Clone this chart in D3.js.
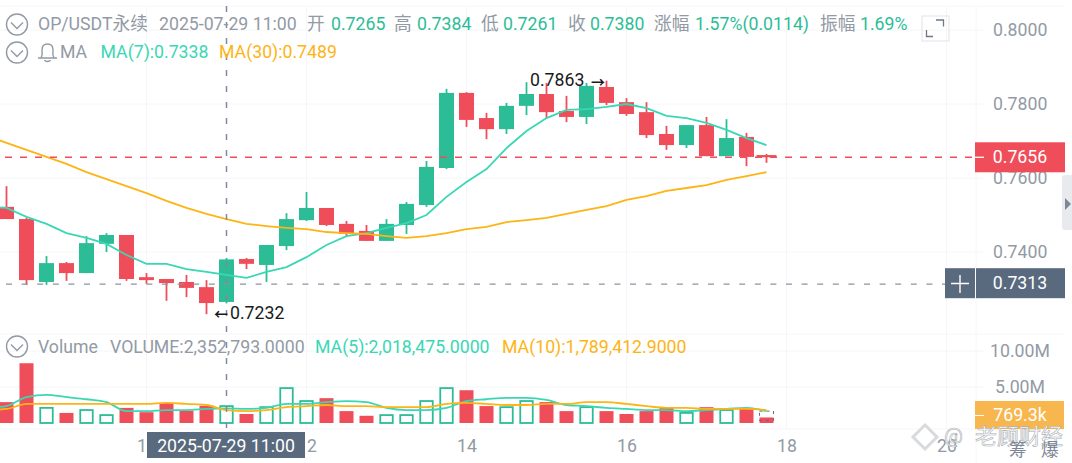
<!DOCTYPE html>
<html lang="en">
<head>
<meta charset="utf-8">
<title>OP/USDT</title>
<script src="https://d3js.org/d3.v7.min.js"></script>
<style>
html, body { margin: 0; padding: 0; background: #fff; }
svg { display: block; }
text { font-family: Roboto, "Noto Sans CJK SC", sans-serif; font-size: 17.7px; }
.grid { stroke: #f5f6f8; stroke-width: 1; }
.axis path, .axis line { display: none; }
.axis text { fill: #929aa5; font-family: Roboto, sans-serif; font-size: 17.7px; }
.icon { fill: none; stroke: #929aa5; stroke-width: 1.4; }
</style>
</head>
<body>
<div id="chart"></div>
<script>
// candles, one per bar
var opens  = [.7522,.7489,.7319,.7370,.7343,.7422,.7446,.7332,.7327,.7319,.7305,.7265,.7381,.7365,.7416,.7486,.7519,.7476,.7457,.7430,.7473,.7527,.7627,.7830,.7762,.7732,.7795,.7827,.7781,.7765,.7846,.7805,.7778,.7719,.7689,.7743,.7659,.7711,.7662];
var highs  = [.7578,.7492,.7389,.7373,.7443,.7451,.7446,.7343,.7327,.7338,.7324,.7384,.7384,.7419,.7505,.7562,.7519,.7484,.7473,.7489,.7535,.7646,.7841,.7832,.7776,.7803,.7859,.7857,.7822,.7857,.7863,.7816,.7805,.7741,.7743,.7765,.7759,.7722,.7665];
var lows   = [.7489,.7311,.7311,.7322,.7343,.7400,.7322,.7314,.7268,.7278,.7232,.7261,.7354,.7319,.7405,.7484,.7470,.7443,.7430,.7430,.7449,.7522,.7624,.7738,.7705,.7719,.7770,.7762,.7751,.7746,.7797,.7768,.7708,.7676,.7681,.7659,.7659,.7632,.7641];
var closes = [.7489,.7324,.7370,.7343,.7424,.7446,.7327,.7324,.7316,.7303,.7262,.7380,.7368,.7419,.7489,.7519,.7473,.7449,.7430,.7476,.7530,.7630,.7830,.7757,.7732,.7795,.7827,.7778,.7765,.7849,.7803,.7773,.7716,.7689,.7743,.7659,.7708,.7657,.7656];
// volume in millions
var volumes = [2.9,8.3,2.1,1.4,1.8,1.1,2.1,1.5,2.8,1.7,2.4,2.35,1.25,2.2,4.85,3.05,3.45,1.65,1.0,1.1,1.1,3.05,4.85,4.55,2.35,2.2,3.05,2.9,1.65,2.2,1.65,1.25,1.65,2.2,1.4,2.2,1.8,2.1,0.77];
// moving averages start one bar before the first candle (off the left edge)
var ma7  = [.7522,.7519,.7495,.7476,.7451,.7438,.7422,.7392,.7368,.7368,.7354,.7346,.7338,.7330,.7346,.7359,.7386,.7419,.7443,.7451,.7465,.7478,.7500,.7549,.7589,.7624,.7681,.7727,.7762,.7784,.7786,.7792,.7800,.7789,.7768,.7762,.7749,.7730,.7708,.7689];
var ma30 = [.7714,.7695,.7676,.7657,.7638,.7616,.7597,.7578,.7559,.7538,.7519,.7503,.7489,.7476,.7470,.7465,.7462,.7454,.7451,.7449,.7443,.7438,.7443,.7451,.7462,.7468,.7481,.7486,.7492,.7503,.7514,.7524,.7541,.7551,.7565,.7573,.7581,.7595,.7605,.7616];
var volMa5  = [2.1,2.35,3.6,3.9,3.6,3.3,2.9,1.65,1.65,1.8,1.8,1.95,2.02,1.95,2.1,2.65,2.65,2.9,3.05,2.9,2.1,1.8,1.8,2.1,3.05,3.3,3.5,3.5,3.2,2.5,2.35,2.1,1.95,1.8,1.8,1.65,1.8,1.95,2.1,1.65];
var volMa10 = [1.8,1.95,2.65,2.65,2.65,2.65,2.65,2.65,2.65,2.8,2.65,2.5,1.79,1.65,1.8,2.2,2.35,2.5,2.35,2.35,2.2,2.2,2.2,2.65,2.8,2.65,2.5,2.5,2.65,2.65,2.9,2.9,2.65,2.35,2.1,2.1,1.95,1.95,1.95,1.8];

var priceTicks = [0.80, 0.78, 0.76, 0.74];
var volumeTicks = [10, 5];
var dateTicks = [7, 15, 23, 31, 39, 47];
var dateLabels = ["10", "12", "14", "16", "18", "20"];

var lastPrice = 0.7656, crossPrice = 0.7313, crossBar = 11, lastVolume = 0.7693;

var UP = "#2dbd96", DOWN = "#f04d5a", TEAL = "#3ad7b5", GOLD = "#fdb414", SLATE = "#5a6a7e", GRAY = "#929aa5";

var w = 1072, h = 463;
var svg = d3.select("#chart").append("svg").attr("width", w).attr("height", h);

var x = d3.scaleLinear().domain([0, 1]).range([6.5, 26.5]);
var y = d3.scaleLinear().domain([0.80, 0.74]).range([30, 252]);
var yVol = d3.scaleLinear().domain([0, 10]).range([423, 351]);

// grid
var grid = svg.append("g");
dateTicks.forEach(function(t) {
  grid.append("line").attr("class", "grid").attr("x1", x(t)).attr("x2", x(t)).attr("y1", 6).attr("y2", 429);
});
priceTicks.forEach(function(t) {
  grid.append("line").attr("class", "grid").attr("x1", 0).attr("x2", 984).attr("y1", y(t)).attr("y2", y(t));
});
volumeTicks.forEach(function(t) {
  grid.append("line").attr("class", "grid").attr("x1", 0).attr("x2", 984).attr("y1", yVol(t)).attr("y2", yVol(t));
});
[6, 334, 429].forEach(function(p) {
  grid.append("line").attr("class", "grid").attr("x1", 0).attr("x2", 1065).attr("y1", p).attr("y2", p);
});
grid.append("line").attr("class", "grid").attr("x1", 976).attr("x2", 976).attr("y1", 6).attr("y2", 463);

// volume bars
var barW = 14;
svg.append("g").selectAll("rect").data(volumes).enter().append("rect")
  .attr("x", function(d, i) { return x(i) - barW / 2 + (closes[i] >= opens[i] ? 0.75 : 0); })
  .attr("width", function(d, i) { return closes[i] >= opens[i] ? barW - 1.5 : barW; })
  .attr("y", function(d) { return yVol(d); })
  .attr("height", function(d) { return yVol(0) - yVol(d); })
  .attr("fill", function(d, i) { return closes[i] >= opens[i] ? "#fff" : DOWN; })
  .attr("stroke", function(d, i) { return closes[i] >= opens[i] ? UP : "none"; })
  .attr("stroke-width", 1.8);

// dotted box over the live volume bar
svg.append("rect")
  .attr("x", x(38) - 7).attr("width", 14)
  .attr("y", yVol(1.65)).attr("height", yVol(0.77) - yVol(1.65) + 3)
  .attr("fill", "none").attr("stroke", SLATE).attr("stroke-width", 1).attr("stroke-dasharray", "3 4");

var volLine = d3.line().x(function(d, i) { return x(i - 1); }).y(function(d) { return yVol(d); }).curve(d3.curveMonotoneX);
svg.append("path").attr("d", volLine(volMa5)).attr("fill", "none").attr("stroke", TEAL).attr("stroke-width", 1.8);
svg.append("path").attr("d", volLine(volMa10)).attr("fill", "none").attr("stroke", GOLD).attr("stroke-width", 1.8);

// candles, the live one is drawn wider
function bodyW(i) { return i === closes.length - 1 ? 20 : 15; }
var candle = svg.append("g").selectAll("g").data(closes).enter().append("g")
  .attr("fill", function(d, i) { return d >= opens[i] ? UP : DOWN; })
  .attr("stroke", function(d, i) { return d >= opens[i] ? UP : DOWN; });
candle.append("line")
  .attr("x1", function(d, i) { return x(i); }).attr("x2", function(d, i) { return x(i); })
  .attr("y1", function(d, i) { return y(highs[i]); })
  .attr("y2", function(d, i) { return y(lows[i]); })
  .attr("stroke-width", 1.8);
candle.append("rect")
  .attr("x", function(d, i) { return x(i) - bodyW(i) / 2; }).attr("width", function(d, i) { return bodyW(i); })
  .attr("y", function(d, i) { return y(Math.max(d, opens[i])); })
  .attr("height", function(d, i) { return Math.abs(y(d) - y(opens[i])); })
  .attr("stroke", "none");

var priceLine = d3.line().x(function(d, i) { return x(i - 1); }).y(function(d) { return y(d); });
svg.append("path").attr("d", priceLine(ma7)).attr("fill", "none").attr("stroke", TEAL).attr("stroke-width", 1.8);
svg.append("path").attr("d", priceLine(ma30)).attr("fill", "none").attr("stroke", GOLD).attr("stroke-width", 1.8);

// price line + crosshair
svg.append("line").attr("x1", 0).attr("x2", 985).attr("y1", y(lastPrice)).attr("y2", y(lastPrice))
  .attr("stroke", DOWN).attr("stroke-width", 1.4).attr("stroke-dasharray", "7 8").attr("stroke-dashoffset", 10);
svg.append("line").attr("x1", 0).attr("x2", 945).attr("y1", y(crossPrice)).attr("y2", y(crossPrice))
  .attr("stroke", "#8b94a3").attr("stroke-width", 1.3).attr("stroke-dasharray", "6 9.6").attr("stroke-dashoffset", 9.6);
svg.append("line").attr("x1", x(crossBar)).attr("x2", x(crossBar)).attr("y1", 6).attr("y2", 429)
  .attr("stroke", "#7f8a9a").attr("stroke-width", 1.5).attr("stroke-dasharray", "6 10");

// high / low marks
svg.append("text").attr("x", 530).attr("y", y(0.7863) + 5).attr("fill", "#181a20").text("0.7863");
svg.append("text").attr("x", 591).attr("y", y(0.7863) + 6).attr("fill", "#181a20").style("font-size", "14px").style("font-weight", "bold").text("→");
svg.append("text").attr("x", 214).attr("y", y(0.7232) + 5).attr("fill", "#181a20").style("font-size", "14px").style("font-weight", "bold").text("←");
svg.append("text").attr("x", 230).attr("y", y(0.7232) + 5).attr("fill", "#181a20").text("0.7232");

// axes
svg.append("g").attr("class", "axis").attr("transform", "translate(993,0)")
  .call(d3.axisRight(y).tickValues(priceTicks).tickSize(0).tickPadding(0).tickFormat(d3.format(".4f")));
svg.append("g").attr("class", "axis").attr("transform", "translate(1053,0)")
  .call(d3.axisLeft(yVol).tickValues(volumeTicks).tickSize(0).tickPadding(0).tickFormat(function(d) { return d3.format(".2f")(d) + "M"; }))
  .selectAll("text").attr("text-anchor", "middle").attr("dx", -33);
svg.append("g").attr("class", "axis").attr("transform", "translate(0,439)")
  .call(d3.axisBottom(x).tickValues(dateTicks).tickSize(0).tickPadding(0).tickFormat(function(d, i) { return dateLabels[i]; }));

// value tags on the right
function tag(x0, top, width, height, color, label, tx) {
  svg.append("rect").attr("x", x0).attr("y", top).attr("width", width).attr("height", height).attr("fill", color);
  svg.append("text").attr("x", tx).attr("y", top + height / 2 + 6).attr("text-anchor", "middle").attr("fill", "#fff").text(label);
}
tag(975, y(lastPrice) - 15, 90, 30, DOWN, d3.format(".4f")(lastPrice), 1020);
svg.append("line").attr("x1", 975).attr("x2", 984).attr("y1", y(lastPrice)).attr("y2", y(lastPrice)).attr("stroke", "#fff").attr("stroke-width", 1.3);
tag(976, y(crossPrice) - 16, 89, 30, SLATE, d3.format(".4f")(crossPrice), 1020);
svg.append("rect").attr("x", 945).attr("y", y(crossPrice) - 16).attr("width", 30).attr("height", 30).attr("fill", SLATE);
svg.append("path").attr("d", "M951 283.5H969M960 275V293").attr("stroke", "#fff").attr("stroke-width", 1.4).attr("fill", "none");
tag(975, 401, 89, 28, "#f8b64e", "769.3k", 1020);
svg.append("line").attr("x1", 975).attr("x2", 984).attr("y1", yVol(lastVolume) - 2).attr("y2", yVol(lastVolume) - 2).attr("stroke", "#fff");

// side handle
svg.append("rect").attr("x", 1062).attr("y", 175).attr("width", 12).attr("height", 55).attr("rx", 3).attr("fill", "#e8eaed");
svg.append("path").attr("d", "M1065 198L1071 204L1065 210Z").attr("fill", "#7d8796");

// date tag
svg.append("rect").attr("x", 147).attr("y", 432).attr("width", 158).attr("height", 26).attr("fill", SLATE);
svg.append("text").attr("x", 226).attr("y", 451.5).attr("text-anchor", "middle").attr("fill", "#fff").text("2025-07-29 11:00");

// legend rows
function legend(items, baseline) {
  items.forEach(function(d) {
    svg.append("text").attr("x", d[0]).attr("y", baseline).attr("fill", d[2]).text(d[1]);
  });
}
legend([[38, "OP/USDT永续", GRAY], [159, "2025-07-29 11:00", GRAY],
  [307, "开", GRAY], [331, "0.7265", UP], [394, "高", GRAY], [417, "0.7384", UP],
  [481, "低", GRAY], [503, "0.7261", UP], [568, "收", GRAY], [590, "0.7380", UP],
  [654, "涨幅", GRAY], [695, "1.57%(0.0114)", UP], [820, "振幅", GRAY], [860, "1.69%", UP]], 29.5);
legend([[60, "MA", GRAY], [100.5, "MA(7):0.7338", TEAL], [219, "MA(30):0.7489", GOLD]], 57.5);
legend([[38, "Volume", GRAY], [110, "VOLUME:2,352,793.0000", GRAY],
  [315, "MA(5):2,018,475.0000", TEAL], [502, "MA(10):1,789,412.9000", GOLD]], 352.5);

// collapse buttons
[24.5, 52.5, 346.5].forEach(function(cy) {
  svg.append("circle").attr("class", "icon").attr("cx", 17).attr("cy", cy).attr("r", 10.5);
  svg.append("path").attr("class", "icon").attr("d", "M11 " + (cy - 2) + "L17 " + (cy + 4) + "L23 " + (cy - 2));
});
// bell
svg.append("path").attr("class", "icon").attr("d", "M38 58H57M41 58C43 54 42 52 42 50C42 46 44 44 47.5 44C51 44 53 46 53 50C53 52 52 54 54 58M44.5 60C45.5 62 49.5 62 50.5 60");
// fullscreen button
svg.append("rect").attr("x", 922).attr("y", 16).attr("width", 27).attr("height", 25).attr("fill", "none").attr("stroke", "#e0e3e8");
svg.append("path").attr("d", "M936 20H943.5V26.5M926.5 30V36.5H933").attr("fill", "none").attr("stroke", "#6d7786").attr("stroke-width", 1.3);

// watermark
var mark = svg.append("g");
mark.append("path").attr("d", "M925 425L937 437L925 449L913 437Z").attr("fill", "#fff").attr("stroke", "#d8dadd").attr("stroke-width", 3);
mark.append("text").attr("x", 944).attr("y", 443).attr("fill", "#fff").attr("stroke", "#a9adb3").attr("stroke-width", 0.6).style("font-size", "21px").text("@");
mark.append("text").attr("x", 975).attr("y", 444).attr("fill", "#fff").attr("stroke", "#a9adb3").attr("stroke-width", 0.6).style("font-size", "22px").text("老顾财经");
mark.append("text").attr("x", 1009).attr("y", 456).attr("fill", "#7d8796").text("筹");
mark.append("text").attr("x", 1041).attr("y", 456).attr("fill", "#7d8796").text("爆");
</script>
</body>
</html>
